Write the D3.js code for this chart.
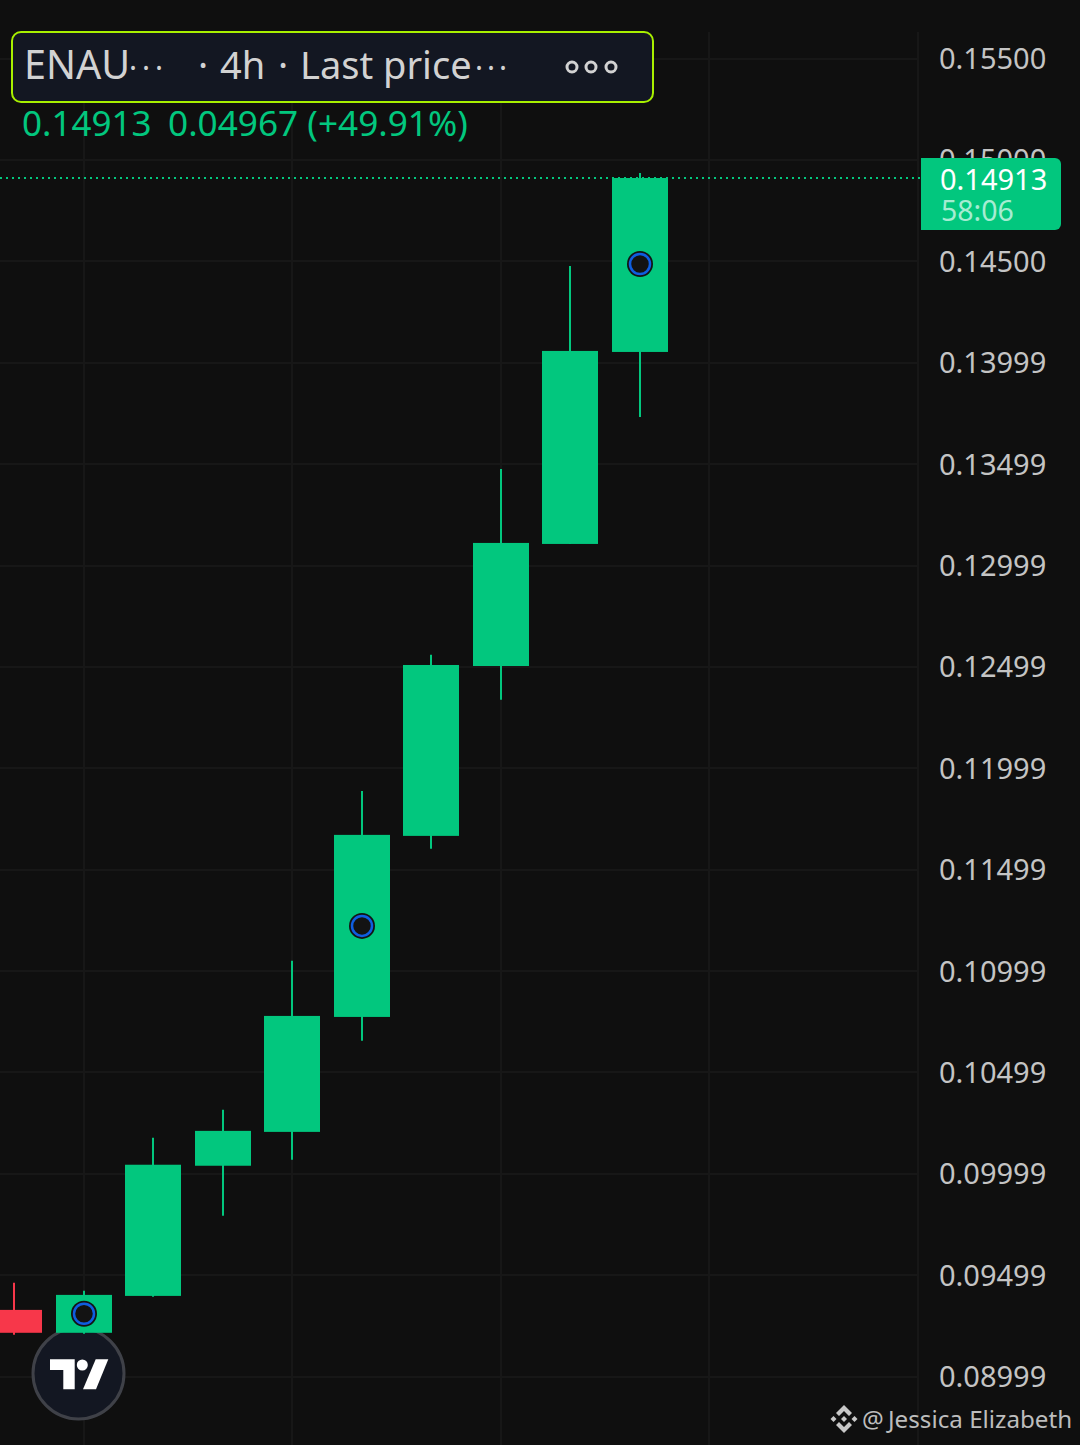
<!DOCTYPE html>
<html>
<head>
<meta charset="utf-8">
<script src="https://cdn.jsdelivr.net/npm/d3@7"></script>
<style>
  html, body { margin: 0; padding: 0; background: #0f0f0f; }
  svg { display: block; font-family: "Noto Sans", sans-serif; }
</style>
</head>
<body>
<div id="chart"></div>
<script>
// candle slots, -1 is the cut off red one at the left edge
const slots = [-1, 0, 1, 2, 3, 4, 5, 6, 7, 8];
const opens = [0.09330, 0.09217, 0.09399, 0.10041, 0.10208, 0.10775, 0.11668, 0.12506, 0.13108, 0.14055];
const closes = [0.09217, 0.09404, 0.10046, 0.10213, 0.10780, 0.11673, 0.12511, 0.13113, 0.14060, 0.14913];
const highs = [0.09464, 0.09424, 0.10179, 0.10317, 0.11052, 0.11890, 0.12561, 0.13478, 0.14479, 0.14938];
const lows = [0.09207, 0.09212, 0.09395, 0.09794, 0.10070, 0.10657, 0.11604, 0.12339, 0.13108, 0.13734];

const tickValues = [0.155, 0.15, 0.145, 0.13999, 0.13499, 0.12999, 0.12499, 0.11999, 0.11499, 0.10999, 0.10499, 0.09999, 0.09499, 0.08999];
const gridSlots = [0, 3, 6, 9];

const markerSlots = [0, 4, 8];
const markerPrices = [0.09311, 0.11224, 0.14489];

const lastPrice = 0.14913;

const width = 1080;
const height = 1445;
const axisX = 918;
const up = "#02c77e";
const down = "#f7374a";
const gridColor = "#171717";

const xScale = d3.scaleLinear().domain([0, 8]).range([84, 640]);
const x = d => Math.floor(xScale(d));
const y = d3.scaleLinear().domain([0.08999, 0.155]).range([1377, 59]);

const svg = d3.select("#chart")
  .append("svg")
  .attr("width", width)
  .attr("height", height);

svg.append("rect")
  .attr("width", width)
  .attr("height", height)
  .attr("fill", "#0f0f0f");

// grid
svg.append("g")
  .selectAll("line")
  .data(tickValues)
  .enter()
  .append("line")
  .attr("x1", 0)
  .attr("x2", axisX)
  .attr("y1", d => Math.floor(y(d)))
  .attr("y2", d => Math.floor(y(d)))
  .attr("stroke", gridColor)
  .attr("stroke-width", 2);

svg.append("g")
  .selectAll("line")
  .data(gridSlots)
  .enter()
  .append("line")
  .attr("x1", d => x(d))
  .attr("x2", d => x(d))
  .attr("y1", 32)
  .attr("y2", height)
  .attr("stroke", gridColor)
  .attr("stroke-width", 2);

svg.append("line")
  .attr("x1", axisX)
  .attr("x2", axisX)
  .attr("y1", 32)
  .attr("y2", height)
  .attr("stroke", gridColor)
  .attr("stroke-width", 2);

// price axis
const axis = svg.append("g")
  .attr("transform", `translate(${axisX},0.3)`)
  .call(d3.axisRight(y).tickValues(tickValues).tickFormat(d3.format(".5f")).tickSize(0).tickPadding(21));
axis.select(".domain").remove();
axis.selectAll("text")
  .attr("font-family", "'Noto Sans', sans-serif")
  .attr("font-size", 29)
  .attr("fill", "#c4c4c4");

// tradingview badge, sits under the candles
const logo = svg.append("g").attr("transform", "translate(78.5,1373.5)");
logo.append("circle").attr("r", 45.5).attr("fill", "#131722").attr("stroke", "#3f4148").attr("stroke-width", 3);
logo.append("path")
  .attr("fill", "#fff")
  .attr("d", "M-28.5,-14.2H-3.8V15.8H-15.2V-3.5H-28.5Z");
logo.append("circle").attr("cx", 3.8).attr("cy", -8.5).attr("r", 5.5).attr("fill", "#fff");
logo.append("path")
  .attr("fill", "#fff")
  .attr("d", "M17.2,-14.2H29.8L17.5,15.8H4.5Z");

// last price line
svg.append("line")
  .attr("x1", 0)
  .attr("x2", 921)
  .attr("y1", y(lastPrice))
  .attr("y2", y(lastPrice))
  .attr("stroke", up)
  .attr("stroke-width", 2)
  .attr("stroke-dasharray", "2 4");

// candles
const candles = slots.map((s, i) => ({ s, open: opens[i], close: closes[i], high: highs[i], low: lows[i] }));
const color = d => d.close >= d.open ? up : down;

svg.append("g")
  .selectAll("line")
  .data(candles)
  .enter()
  .append("line")
  .attr("x1", d => x(d.s))
  .attr("x2", d => x(d.s))
  .attr("y1", d => y(d.high))
  .attr("y2", d => y(d.low))
  .attr("stroke", color)
  .attr("stroke-width", 2);

svg.append("g")
  .selectAll("rect")
  .data(candles)
  .enter()
  .append("rect")
  .attr("x", d => x(d.s) - 28)
  .attr("y", d => y(Math.max(d.open, d.close)))
  .attr("width", 56)
  .attr("height", d => Math.abs(y(d.open) - y(d.close)))
  .attr("fill", color);

// markers on the candles
const markers = svg.append("g")
  .selectAll("g")
  .data(markerSlots)
  .enter()
  .append("g")
  .attr("transform", (d, i) => `translate(${x(d)},${y(markerPrices[i])})`);
markers.append("circle").attr("r", 13).attr("fill", "#131313");
markers.append("circle").attr("r", 10).attr("fill", "none").attr("stroke", "#0f5ee0").attr("stroke-width", 2.5);

// legend box
svg.append("rect")
  .attr("x", 12)
  .attr("y", 32)
  .attr("width", 641)
  .attr("height", 70)
  .attr("rx", 9)
  .attr("fill", "#131722")
  .attr("stroke", "#a8f000")
  .attr("stroke-width", 2);

const legendText = [
  { t: "ENAU", x: 24, s: 39.5 },
  { t: "···", x: 129, s: 30, ls: 5 },
  { t: "·", x: 198 },
  { t: "4h", x: 220 },
  { t: "·", x: 278 },
  { t: "Last price", x: 300 },
  { t: "···", x: 475, s: 30, ls: 4 }
];
svg.append("g")
  .selectAll("text")
  .data(legendText)
  .enter()
  .append("text")
  .attr("x", d => d.x)
  .attr("y", 79)
  .attr("font-size", d => d.s || 38)
  .attr("letter-spacing", d => d.ls || 0)
  .attr("fill", "#d2d2d2")
  .text(d => d.t);

svg.append("g")
  .selectAll("circle")
  .data([572, 591, 611])
  .enter()
  .append("circle")
  .attr("cx", d => d)
  .attr("cy", 67)
  .attr("r", 5)
  .attr("fill", "none")
  .attr("stroke", "#d2d2d2")
  .attr("stroke-width", 3);

svg.append("text").attr("x", 22).attr("y", 136).attr("font-size", 35).attr("fill", up).text("0.14913");
svg.append("text").attr("x", 168).attr("y", 136).attr("font-size", 35.2).attr("fill", up).text("0.04967 (+49.91%)");

// last price tag
svg.append("path")
  .attr("fill", up)
  .attr("d", "M921,158H1055a6,6 0 0 1 6,6V224a6,6 0 0 1 -6,6H921Z");
svg.append("text").attr("x", 940).attr("y", 189.5).attr("font-size", 29).attr("fill", "#fff").text(d3.format(".5f")(lastPrice));
svg.append("text").attr("x", 941).attr("y", 221).attr("font-size", 28.5).attr("fill", "#a6ecd2").text("58:06");

// watermark
const mark = svg.append("g").attr("transform", "translate(844,1419)").attr("fill", "#c8c8c8");
mark.append("path").attr("d", "M0,-14L8,-6L5,-3L0,-8L-5,-3L-8,-6Z");
mark.append("path").attr("d", "M0,14L8,6L5,3L0,8L-5,3L-8,6Z");
mark.append("path").attr("d", "M-10.5,-3L-7.5,0L-10.5,3L-13.5,0Z");
mark.append("path").attr("d", "M10.5,-3L13.5,0L10.5,3L7.5,0Z");
mark.append("path").attr("d", "M0,-3L3,0L0,3L-3,0Z");

svg.append("text")
  .attr("x", 862)
  .attr("y", 1428)
  .attr("font-size", 24.2)
  .attr("fill", "#bdbdbd")
  .text("@");
svg.append("text")
  .attr("x", 888)
  .attr("y", 1428)
  .attr("font-size", 24.2)
  .attr("fill", "#bdbdbd")
  .text("Jessica Elizabeth");
</script>
</body>
</html>
